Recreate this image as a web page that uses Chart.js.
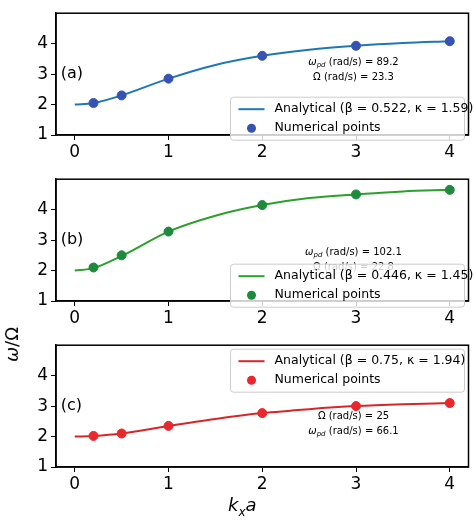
<!DOCTYPE html><html><head><meta charset="utf-8">
<script src="https://cdn.jsdelivr.net/npm/chart.js@4/dist/chart.umd.min.js"></script>
<style>body{margin:0;width:474px;height:528px;position:relative;background:#fff;font-family:"DejaVu Sans"}
canvas{position:absolute;left:0}
.t{position:absolute;font-size:18px}</style></head><body>
<canvas id="c0" style="top:0px" width="474" height="163"></canvas>
<canvas id="c1" style="top:166px" width="474" height="163"></canvas>
<canvas id="c2" style="top:332px" width="474" height="163"></canvas>
<div class="t" style="left:228px;top:494px"><i>k<sub style="font-size:12px">x</sub>a</i></div>
<div class="t" style="left:-6px;top:334px;transform:rotate(-90deg)"><i>ω</i>/Ω</div>
<script>
const lineX=[0,0.2,0.5,1,1.5,2,2.5,3,3.5,4];
const lineA=[2.0,2.05,2.3,2.85,3.3,3.6,3.8,3.93,4.02,4.08];
const lineB=[2.0,2.08,2.48,3.28,3.8,4.15,4.38,4.5,4.6,4.65];
const lineC=[2.0,2.02,2.1,2.35,2.58,2.77,2.9,3.0,3.06,3.1];
const ptX=[0.2,0.5,1,2,3,4];
const ptA=[2.05,2.3,2.85,3.6,3.93,4.08];
const ptB=[2.1,2.5,3.28,4.15,4.5,4.65];
const ptC=[2.02,2.1,2.35,2.77,3.0,3.1];
const panels=[
 {id:'c0',line:lineA,pts:ptA,lc:'#1f77b4',pc:'#3553b3',lab:'(a)',labY:3,leg:'Analytical (β = 0.522, κ = 1.59)',legY:84,ann:[['ω','pd',' (rad/s) = 89.2'],['Ω (rad/s) = 23.3']],annY:49},
 {id:'c1',line:lineB,pts:ptB,lc:'#2ca02c',pc:'#1e8a3e',lab:'(b)',labY:3,leg:'Analytical (β = 0.446, κ = 1.45)',legY:85,ann:[['ω','pd',' (rad/s) = 102.1'],['Ω (rad/s) = 22.8']],annY:73},
 {id:'c2',line:lineC,pts:ptC,lc:'#d62728',pc:'#e8282c',lab:'(c)',labY:3,leg:'Analytical (β = 0.75, κ = 1.94)',legY:4,ann:[['Ω (rad/s) = 25'],['ω','pd',' (rad/s) = 66.1']],annY:71}
];
panels.forEach(p=>{
 const deco={id:'deco',afterDraw(ch){
  const c=ch.ctx,a=ch.chartArea,x=ch.scales.x,y=ch.scales.y;
  c.save();c.strokeStyle='#000';c.lineWidth=1.5;c.strokeRect(a.left,a.top,a.right-a.left,a.bottom-a.top);
  c.fillStyle='#000';c.font='16px "DejaVu Sans"';c.textBaseline='middle';c.textAlign='left';
  c.fillText(p.lab,x.getPixelForValue(-0.15),y.getPixelForValue(p.labY));
  p.ann.forEach((parts,i)=>{
   const yy=a.top+p.annY+i*15;
   const f=['italic 10px "DejaVu Sans"','italic 7px "DejaVu Sans"','10px "DejaVu Sans"'];
   let fs=parts.length===1?['10px "DejaVu Sans"']:f;
   let w=0;parts.forEach((t,j)=>{c.font=fs[j];w+=c.measureText(t).width});
   let xx=a.right-115-w/2;
   parts.forEach((t,j)=>{c.font=fs[j];c.fillText(t,xx,yy+(parts.length>1&&j===1?3:0));xx+=c.measureText(t).width});
  });
  const L=a.right-238,T=a.top+p.legY;
  c.fillStyle='rgba(255,255,255,0.8)';c.strokeStyle='#ccc';c.lineWidth=1;
  c.beginPath();c.roundRect(L,T,234,43,3);c.fill();c.stroke();
  c.strokeStyle=p.lc;c.lineWidth=2;c.beginPath();c.moveTo(L+8,T+12);c.lineTo(L+34,T+12);c.stroke();
  c.fillStyle=p.pc;c.beginPath();c.arc(L+21,T+31,4.5,0,7);c.fill();
  c.fillStyle='#000';c.textAlign='left';c.font='12.5px "DejaVu Sans"';
  c.fillText(p.leg,L+44,T+12);c.fillText('Numerical points',L+44,T+31);
  c.restore();}};
 new Chart(document.getElementById(p.id),{type:'scatter',plugins:[deco],
  data:{datasets:[
   {data:ptX.map((v,i)=>({x:v,y:p.pts[i]})),backgroundColor:p.pc,borderColor:p.pc,pointRadius:4.5,order:0},
   {type:'line',data:lineX.map((v,i)=>({x:v,y:p.line[i]})),borderColor:p.lc,borderWidth:2,pointRadius:0,cubicInterpolationMode:'monotone',fill:false,order:1}]},
  options:{responsive:false,animation:false,layout:{padding:{top:1,right:2}},
   plugins:{legend:{display:false},tooltip:{enabled:false}},
   scales:{
    x:{type:'linear',min:-0.2,max:4.2,afterFit(s){s.height=28},
     afterBuildTicks(s){s.ticks=[0,1,2,3,4].map(v=>({value:v}))},
     border:{color:'#000',width:1.5},grid:{drawOnChartArea:false,tickLength:5,color:'#000'},
     ticks:{color:'#000',font:{size:17,family:'DejaVu Sans'},padding:2}},
    y:{min:1,max:5,afterFit(s){s.width=56},
     afterBuildTicks(s){s.ticks=[1,2,3,4].map(v=>({value:v}))},
     border:{color:'#000',width:1.5},grid:{drawOnChartArea:false,tickLength:5,color:'#000'},
     ticks:{color:'#000',font:{size:17,family:'DejaVu Sans'},padding:3}}}}});
});
</script></body></html>
